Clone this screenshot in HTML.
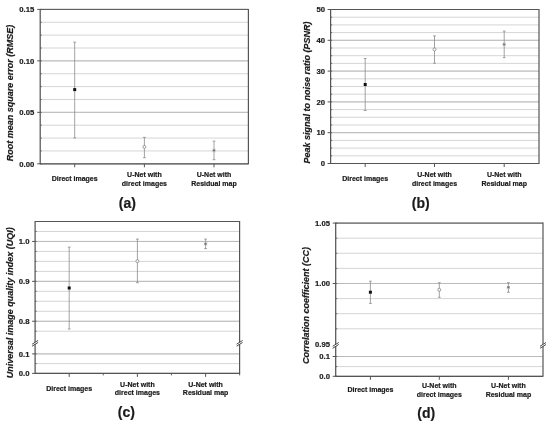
<!DOCTYPE html>
<html><head><meta charset="utf-8"><title>Figure</title>
<style>
html,body{margin:0;padding:0;background:#fff;}
body{width:550px;height:424px;overflow:hidden;}
svg{display:block;font-family:"Liberation Sans",Arial,sans-serif;font-weight:bold;fill:#1a1a1a;}
text{stroke:#1a1a1a;stroke-width:0.2px;stroke-linejoin:round;}
</style></head><body>
<svg width="550" height="424" viewBox="0 0 550 424">
<rect width="550" height="424" fill="#fff"/>
<line x1="40.20" y1="9.40" x2="248.40" y2="9.40" stroke="#cacaca" stroke-width="0.8"/>
<line x1="40.20" y1="22.27" x2="248.40" y2="22.27" stroke="#cacaca" stroke-width="0.8"/>
<line x1="40.20" y1="35.13" x2="248.40" y2="35.13" stroke="#cacaca" stroke-width="0.8"/>
<line x1="40.20" y1="48.00" x2="248.40" y2="48.00" stroke="#cacaca" stroke-width="0.8"/>
<line x1="40.20" y1="60.87" x2="248.40" y2="60.87" stroke="#cacaca" stroke-width="0.8"/>
<line x1="40.20" y1="73.73" x2="248.40" y2="73.73" stroke="#cacaca" stroke-width="0.8"/>
<line x1="40.20" y1="86.60" x2="248.40" y2="86.60" stroke="#cacaca" stroke-width="0.8"/>
<line x1="40.20" y1="99.47" x2="248.40" y2="99.47" stroke="#cacaca" stroke-width="0.8"/>
<line x1="40.20" y1="112.33" x2="248.40" y2="112.33" stroke="#cacaca" stroke-width="0.8"/>
<line x1="40.20" y1="125.20" x2="248.40" y2="125.20" stroke="#cacaca" stroke-width="0.8"/>
<line x1="40.20" y1="138.07" x2="248.40" y2="138.07" stroke="#cacaca" stroke-width="0.8"/>
<line x1="40.20" y1="150.93" x2="248.40" y2="150.93" stroke="#cacaca" stroke-width="0.8"/>
<line x1="40.20" y1="163.80" x2="248.40" y2="163.80" stroke="#cacaca" stroke-width="0.8"/>
<line x1="40.20" y1="9.40" x2="248.40" y2="9.40" stroke="#b8b8b8" stroke-width="0.9"/>
<line x1="40.20" y1="60.87" x2="248.40" y2="60.87" stroke="#b8b8b8" stroke-width="0.9"/>
<line x1="40.20" y1="112.33" x2="248.40" y2="112.33" stroke="#b8b8b8" stroke-width="0.9"/>
<line x1="40.20" y1="163.80" x2="248.40" y2="163.80" stroke="#b8b8b8" stroke-width="0.9"/>
<line x1="40.20" y1="8.90" x2="40.20" y2="164.30" stroke="#555555" stroke-width="1.25"/>
<line x1="248.40" y1="8.90" x2="248.40" y2="164.30" stroke="#555555" stroke-width="1.2"/>
<line x1="40.20" y1="9.40" x2="248.40" y2="9.40" stroke="#555555" stroke-width="1.0"/>
<line x1="40.20" y1="163.80" x2="248.40" y2="163.80" stroke="#555555" stroke-width="1.15"/>
<line x1="37.20" y1="9.40" x2="40.20" y2="9.40" stroke="#555555" stroke-width="1"/>
<line x1="37.20" y1="60.87" x2="40.20" y2="60.87" stroke="#555555" stroke-width="1"/>
<line x1="37.20" y1="112.33" x2="40.20" y2="112.33" stroke="#555555" stroke-width="1"/>
<line x1="37.20" y1="163.80" x2="40.20" y2="163.80" stroke="#555555" stroke-width="1"/>
<line x1="40.20" y1="9.40" x2="41.80" y2="9.40" stroke="#555555" stroke-width="0.8"/>
<line x1="40.20" y1="22.27" x2="41.80" y2="22.27" stroke="#555555" stroke-width="0.8"/>
<line x1="40.20" y1="35.13" x2="41.80" y2="35.13" stroke="#555555" stroke-width="0.8"/>
<line x1="40.20" y1="48.00" x2="41.80" y2="48.00" stroke="#555555" stroke-width="0.8"/>
<line x1="40.20" y1="60.87" x2="41.80" y2="60.87" stroke="#555555" stroke-width="0.8"/>
<line x1="40.20" y1="73.73" x2="41.80" y2="73.73" stroke="#555555" stroke-width="0.8"/>
<line x1="40.20" y1="86.60" x2="41.80" y2="86.60" stroke="#555555" stroke-width="0.8"/>
<line x1="40.20" y1="99.47" x2="41.80" y2="99.47" stroke="#555555" stroke-width="0.8"/>
<line x1="40.20" y1="112.33" x2="41.80" y2="112.33" stroke="#555555" stroke-width="0.8"/>
<line x1="40.20" y1="125.20" x2="41.80" y2="125.20" stroke="#555555" stroke-width="0.8"/>
<line x1="40.20" y1="138.07" x2="41.80" y2="138.07" stroke="#555555" stroke-width="0.8"/>
<line x1="40.20" y1="150.93" x2="41.80" y2="150.93" stroke="#555555" stroke-width="0.8"/>
<line x1="40.20" y1="163.80" x2="41.80" y2="163.80" stroke="#555555" stroke-width="0.8"/>
<text x="34.30" y="12.17" font-size="7.7" text-anchor="end">0.15</text>
<text x="34.30" y="63.64" font-size="7.7" text-anchor="end">0.10</text>
<text x="34.30" y="115.11" font-size="7.7" text-anchor="end">0.05</text>
<text x="34.30" y="166.57" font-size="7.7" text-anchor="end">0.00</text>
<text x="13.00" y="92.90" font-size="9" text-anchor="middle" transform="rotate(-90 13.00 92.90)" font-style="italic">Root mean square error (RMSE)</text>
<line x1="74.70" y1="163.80" x2="74.70" y2="167.30" stroke="#555555" stroke-width="1"/>
<line x1="144.40" y1="163.80" x2="144.40" y2="167.30" stroke="#555555" stroke-width="1"/>
<line x1="214.00" y1="163.80" x2="214.00" y2="167.30" stroke="#555555" stroke-width="1"/>
<text x="74.70" y="181.22" font-size="7" text-anchor="middle">Direct images</text>
<text x="144.40" y="177.22" font-size="7" text-anchor="middle">U-Net with</text>
<text x="144.40" y="185.52" font-size="7" text-anchor="middle">direct images</text>
<text x="214.00" y="177.22" font-size="7" text-anchor="middle">U-Net with</text>
<text x="214.00" y="185.52" font-size="7" text-anchor="middle">Residual map</text>
<text x="127.40" y="208.06" font-size="14" text-anchor="middle">(a)</text>
<line x1="74.70" y1="42.20" x2="74.70" y2="137.90" stroke="#8a8a8a" stroke-width="0.8"/>
<line x1="73.30" y1="42.20" x2="76.10" y2="42.20" stroke="#8a8a8a" stroke-width="0.8"/>
<line x1="73.30" y1="137.90" x2="76.10" y2="137.90" stroke="#8a8a8a" stroke-width="0.8"/>
<rect x="73.20" y="88.10" width="3" height="3" fill="#111"/>
<line x1="144.40" y1="137.40" x2="144.40" y2="157.70" stroke="#8a8a8a" stroke-width="0.8"/>
<line x1="143.00" y1="137.40" x2="145.80" y2="137.40" stroke="#8a8a8a" stroke-width="0.8"/>
<line x1="143.00" y1="157.70" x2="145.80" y2="157.70" stroke="#8a8a8a" stroke-width="0.8"/>
<circle cx="144.40" cy="146.90" r="1.5" fill="#fff" stroke="#777" stroke-width="0.7"/>
<line x1="214.00" y1="141.10" x2="214.00" y2="159.70" stroke="#8a8a8a" stroke-width="0.8"/>
<line x1="212.60" y1="141.10" x2="215.40" y2="141.10" stroke="#8a8a8a" stroke-width="0.8"/>
<line x1="212.60" y1="159.70" x2="215.40" y2="159.70" stroke="#8a8a8a" stroke-width="0.8"/>
<path d="M212.70 149.10L215.30 151.70M212.70 151.70L215.30 149.10M212.50 150.40H215.50" stroke="#666" stroke-width="0.7" fill="none"/>
<line x1="330.60" y1="9.50" x2="539.00" y2="9.50" stroke="#cacaca" stroke-width="0.8"/>
<line x1="330.60" y1="17.20" x2="539.00" y2="17.20" stroke="#cacaca" stroke-width="0.8"/>
<line x1="330.60" y1="24.90" x2="539.00" y2="24.90" stroke="#cacaca" stroke-width="0.8"/>
<line x1="330.60" y1="32.60" x2="539.00" y2="32.60" stroke="#cacaca" stroke-width="0.8"/>
<line x1="330.60" y1="40.30" x2="539.00" y2="40.30" stroke="#cacaca" stroke-width="0.8"/>
<line x1="330.60" y1="48.00" x2="539.00" y2="48.00" stroke="#cacaca" stroke-width="0.8"/>
<line x1="330.60" y1="55.70" x2="539.00" y2="55.70" stroke="#cacaca" stroke-width="0.8"/>
<line x1="330.60" y1="63.40" x2="539.00" y2="63.40" stroke="#cacaca" stroke-width="0.8"/>
<line x1="330.60" y1="71.10" x2="539.00" y2="71.10" stroke="#cacaca" stroke-width="0.8"/>
<line x1="330.60" y1="78.80" x2="539.00" y2="78.80" stroke="#cacaca" stroke-width="0.8"/>
<line x1="330.60" y1="86.50" x2="539.00" y2="86.50" stroke="#cacaca" stroke-width="0.8"/>
<line x1="330.60" y1="94.20" x2="539.00" y2="94.20" stroke="#cacaca" stroke-width="0.8"/>
<line x1="330.60" y1="101.90" x2="539.00" y2="101.90" stroke="#cacaca" stroke-width="0.8"/>
<line x1="330.60" y1="109.60" x2="539.00" y2="109.60" stroke="#cacaca" stroke-width="0.8"/>
<line x1="330.60" y1="117.30" x2="539.00" y2="117.30" stroke="#cacaca" stroke-width="0.8"/>
<line x1="330.60" y1="125.00" x2="539.00" y2="125.00" stroke="#cacaca" stroke-width="0.8"/>
<line x1="330.60" y1="132.70" x2="539.00" y2="132.70" stroke="#cacaca" stroke-width="0.8"/>
<line x1="330.60" y1="140.40" x2="539.00" y2="140.40" stroke="#cacaca" stroke-width="0.8"/>
<line x1="330.60" y1="148.10" x2="539.00" y2="148.10" stroke="#cacaca" stroke-width="0.8"/>
<line x1="330.60" y1="155.80" x2="539.00" y2="155.80" stroke="#cacaca" stroke-width="0.8"/>
<line x1="330.60" y1="163.50" x2="539.00" y2="163.50" stroke="#cacaca" stroke-width="0.8"/>
<line x1="330.60" y1="9.50" x2="539.00" y2="9.50" stroke="#b8b8b8" stroke-width="0.9"/>
<line x1="330.60" y1="40.30" x2="539.00" y2="40.30" stroke="#b8b8b8" stroke-width="0.9"/>
<line x1="330.60" y1="71.10" x2="539.00" y2="71.10" stroke="#b8b8b8" stroke-width="0.9"/>
<line x1="330.60" y1="101.90" x2="539.00" y2="101.90" stroke="#b8b8b8" stroke-width="0.9"/>
<line x1="330.60" y1="132.70" x2="539.00" y2="132.70" stroke="#b8b8b8" stroke-width="0.9"/>
<line x1="330.60" y1="163.50" x2="539.00" y2="163.50" stroke="#b8b8b8" stroke-width="0.9"/>
<line x1="330.60" y1="9.00" x2="330.60" y2="164.00" stroke="#555555" stroke-width="1.25"/>
<line x1="539.00" y1="9.00" x2="539.00" y2="164.00" stroke="#555555" stroke-width="1.2"/>
<line x1="330.60" y1="9.50" x2="539.00" y2="9.50" stroke="#555555" stroke-width="1.0"/>
<line x1="330.60" y1="163.50" x2="539.00" y2="163.50" stroke="#555555" stroke-width="1.15"/>
<line x1="327.60" y1="9.50" x2="330.60" y2="9.50" stroke="#555555" stroke-width="1"/>
<line x1="327.60" y1="40.30" x2="330.60" y2="40.30" stroke="#555555" stroke-width="1"/>
<line x1="327.60" y1="71.10" x2="330.60" y2="71.10" stroke="#555555" stroke-width="1"/>
<line x1="327.60" y1="101.90" x2="330.60" y2="101.90" stroke="#555555" stroke-width="1"/>
<line x1="327.60" y1="132.70" x2="330.60" y2="132.70" stroke="#555555" stroke-width="1"/>
<line x1="327.60" y1="163.50" x2="330.60" y2="163.50" stroke="#555555" stroke-width="1"/>
<line x1="330.60" y1="9.50" x2="332.20" y2="9.50" stroke="#555555" stroke-width="0.8"/>
<line x1="330.60" y1="17.20" x2="332.20" y2="17.20" stroke="#555555" stroke-width="0.8"/>
<line x1="330.60" y1="24.90" x2="332.20" y2="24.90" stroke="#555555" stroke-width="0.8"/>
<line x1="330.60" y1="32.60" x2="332.20" y2="32.60" stroke="#555555" stroke-width="0.8"/>
<line x1="330.60" y1="40.30" x2="332.20" y2="40.30" stroke="#555555" stroke-width="0.8"/>
<line x1="330.60" y1="48.00" x2="332.20" y2="48.00" stroke="#555555" stroke-width="0.8"/>
<line x1="330.60" y1="55.70" x2="332.20" y2="55.70" stroke="#555555" stroke-width="0.8"/>
<line x1="330.60" y1="63.40" x2="332.20" y2="63.40" stroke="#555555" stroke-width="0.8"/>
<line x1="330.60" y1="71.10" x2="332.20" y2="71.10" stroke="#555555" stroke-width="0.8"/>
<line x1="330.60" y1="78.80" x2="332.20" y2="78.80" stroke="#555555" stroke-width="0.8"/>
<line x1="330.60" y1="86.50" x2="332.20" y2="86.50" stroke="#555555" stroke-width="0.8"/>
<line x1="330.60" y1="94.20" x2="332.20" y2="94.20" stroke="#555555" stroke-width="0.8"/>
<line x1="330.60" y1="101.90" x2="332.20" y2="101.90" stroke="#555555" stroke-width="0.8"/>
<line x1="330.60" y1="109.60" x2="332.20" y2="109.60" stroke="#555555" stroke-width="0.8"/>
<line x1="330.60" y1="117.30" x2="332.20" y2="117.30" stroke="#555555" stroke-width="0.8"/>
<line x1="330.60" y1="125.00" x2="332.20" y2="125.00" stroke="#555555" stroke-width="0.8"/>
<line x1="330.60" y1="132.70" x2="332.20" y2="132.70" stroke="#555555" stroke-width="0.8"/>
<line x1="330.60" y1="140.40" x2="332.20" y2="140.40" stroke="#555555" stroke-width="0.8"/>
<line x1="330.60" y1="148.10" x2="332.20" y2="148.10" stroke="#555555" stroke-width="0.8"/>
<line x1="330.60" y1="155.80" x2="332.20" y2="155.80" stroke="#555555" stroke-width="0.8"/>
<line x1="330.60" y1="163.50" x2="332.20" y2="163.50" stroke="#555555" stroke-width="0.8"/>
<text x="325.00" y="12.27" font-size="7.7" text-anchor="end">50</text>
<text x="325.00" y="43.07" font-size="7.7" text-anchor="end">40</text>
<text x="325.00" y="73.87" font-size="7.7" text-anchor="end">30</text>
<text x="325.00" y="104.67" font-size="7.7" text-anchor="end">20</text>
<text x="325.00" y="135.47" font-size="7.7" text-anchor="end">10</text>
<text x="325.00" y="166.27" font-size="7.7" text-anchor="end">0</text>
<text x="310.50" y="92.60" font-size="9" text-anchor="middle" transform="rotate(-90 310.50 92.60)" font-style="italic">Peak signal to noise ratio (PSNR)</text>
<line x1="365.20" y1="163.50" x2="365.20" y2="167.00" stroke="#555555" stroke-width="1"/>
<line x1="434.50" y1="163.50" x2="434.50" y2="167.00" stroke="#555555" stroke-width="1"/>
<line x1="504.20" y1="163.50" x2="504.20" y2="167.00" stroke="#555555" stroke-width="1"/>
<text x="365.20" y="181.22" font-size="7" text-anchor="middle">Direct images</text>
<text x="434.50" y="177.22" font-size="7" text-anchor="middle">U-Net with</text>
<text x="434.50" y="185.52" font-size="7" text-anchor="middle">direct images</text>
<text x="504.20" y="177.22" font-size="7" text-anchor="middle">U-Net with</text>
<text x="504.20" y="185.52" font-size="7" text-anchor="middle">Residual map</text>
<text x="420.80" y="207.56" font-size="14" text-anchor="middle">(b)</text>
<line x1="365.20" y1="58.50" x2="365.20" y2="110.50" stroke="#8a8a8a" stroke-width="0.8"/>
<line x1="363.80" y1="58.50" x2="366.60" y2="58.50" stroke="#8a8a8a" stroke-width="0.8"/>
<line x1="363.80" y1="110.50" x2="366.60" y2="110.50" stroke="#8a8a8a" stroke-width="0.8"/>
<rect x="363.70" y="83.00" width="3" height="3" fill="#111"/>
<line x1="434.50" y1="35.90" x2="434.50" y2="63.20" stroke="#8a8a8a" stroke-width="0.8"/>
<line x1="433.10" y1="35.90" x2="435.90" y2="35.90" stroke="#8a8a8a" stroke-width="0.8"/>
<line x1="433.10" y1="63.20" x2="435.90" y2="63.20" stroke="#8a8a8a" stroke-width="0.8"/>
<circle cx="434.50" cy="49.40" r="1.5" fill="#fff" stroke="#777" stroke-width="0.7"/>
<line x1="504.20" y1="31.10" x2="504.20" y2="57.70" stroke="#8a8a8a" stroke-width="0.8"/>
<line x1="502.80" y1="31.10" x2="505.60" y2="31.10" stroke="#8a8a8a" stroke-width="0.8"/>
<line x1="502.80" y1="57.70" x2="505.60" y2="57.70" stroke="#8a8a8a" stroke-width="0.8"/>
<path d="M502.90 43.10L505.50 45.70M502.90 45.70L505.50 43.10M502.70 44.40H505.70" stroke="#666" stroke-width="0.7" fill="none"/>
<line x1="35.10" y1="221.50" x2="239.60" y2="221.50" stroke="#cacaca" stroke-width="0.8"/>
<line x1="35.10" y1="231.47" x2="239.60" y2="231.47" stroke="#cacaca" stroke-width="0.8"/>
<line x1="35.10" y1="241.45" x2="239.60" y2="241.45" stroke="#cacaca" stroke-width="0.8"/>
<line x1="35.10" y1="251.43" x2="239.60" y2="251.43" stroke="#cacaca" stroke-width="0.8"/>
<line x1="35.10" y1="261.40" x2="239.60" y2="261.40" stroke="#cacaca" stroke-width="0.8"/>
<line x1="35.10" y1="271.38" x2="239.60" y2="271.38" stroke="#cacaca" stroke-width="0.8"/>
<line x1="35.10" y1="281.35" x2="239.60" y2="281.35" stroke="#cacaca" stroke-width="0.8"/>
<line x1="35.10" y1="291.32" x2="239.60" y2="291.32" stroke="#cacaca" stroke-width="0.8"/>
<line x1="35.10" y1="301.30" x2="239.60" y2="301.30" stroke="#cacaca" stroke-width="0.8"/>
<line x1="35.10" y1="311.27" x2="239.60" y2="311.27" stroke="#cacaca" stroke-width="0.8"/>
<line x1="35.10" y1="321.25" x2="239.60" y2="321.25" stroke="#cacaca" stroke-width="0.8"/>
<line x1="35.10" y1="331.23" x2="239.60" y2="331.23" stroke="#cacaca" stroke-width="0.8"/>
<line x1="35.10" y1="353.90" x2="239.60" y2="353.90" stroke="#cacaca" stroke-width="0.8"/>
<line x1="35.10" y1="363.60" x2="239.60" y2="363.60" stroke="#cacaca" stroke-width="0.8"/>
<line x1="35.10" y1="373.40" x2="239.60" y2="373.40" stroke="#cacaca" stroke-width="0.8"/>
<line x1="35.10" y1="241.45" x2="239.60" y2="241.45" stroke="#b8b8b8" stroke-width="0.9"/>
<line x1="35.10" y1="281.35" x2="239.60" y2="281.35" stroke="#b8b8b8" stroke-width="0.9"/>
<line x1="35.10" y1="321.25" x2="239.60" y2="321.25" stroke="#b8b8b8" stroke-width="0.9"/>
<line x1="35.10" y1="353.90" x2="239.60" y2="353.90" stroke="#b8b8b8" stroke-width="0.9"/>
<line x1="35.10" y1="373.40" x2="239.60" y2="373.40" stroke="#b8b8b8" stroke-width="0.9"/>
<line x1="35.10" y1="221.00" x2="35.10" y2="373.90" stroke="#555555" stroke-width="1.25"/>
<line x1="239.60" y1="221.00" x2="239.60" y2="373.90" stroke="#555555" stroke-width="1.2"/>
<line x1="35.10" y1="221.50" x2="239.60" y2="221.50" stroke="#555555" stroke-width="1.0"/>
<line x1="35.10" y1="373.40" x2="239.60" y2="373.40" stroke="#555555" stroke-width="1.15"/>
<line x1="32.10" y1="241.45" x2="35.10" y2="241.45" stroke="#555555" stroke-width="1"/>
<line x1="32.10" y1="281.35" x2="35.10" y2="281.35" stroke="#555555" stroke-width="1"/>
<line x1="32.10" y1="321.25" x2="35.10" y2="321.25" stroke="#555555" stroke-width="1"/>
<line x1="32.10" y1="353.90" x2="35.10" y2="353.90" stroke="#555555" stroke-width="1"/>
<line x1="32.10" y1="373.40" x2="35.10" y2="373.40" stroke="#555555" stroke-width="1"/>
<line x1="35.10" y1="221.50" x2="36.70" y2="221.50" stroke="#555555" stroke-width="0.8"/>
<line x1="35.10" y1="231.47" x2="36.70" y2="231.47" stroke="#555555" stroke-width="0.8"/>
<line x1="35.10" y1="241.45" x2="36.70" y2="241.45" stroke="#555555" stroke-width="0.8"/>
<line x1="35.10" y1="251.43" x2="36.70" y2="251.43" stroke="#555555" stroke-width="0.8"/>
<line x1="35.10" y1="261.40" x2="36.70" y2="261.40" stroke="#555555" stroke-width="0.8"/>
<line x1="35.10" y1="271.38" x2="36.70" y2="271.38" stroke="#555555" stroke-width="0.8"/>
<line x1="35.10" y1="281.35" x2="36.70" y2="281.35" stroke="#555555" stroke-width="0.8"/>
<line x1="35.10" y1="291.32" x2="36.70" y2="291.32" stroke="#555555" stroke-width="0.8"/>
<line x1="35.10" y1="301.30" x2="36.70" y2="301.30" stroke="#555555" stroke-width="0.8"/>
<line x1="35.10" y1="311.27" x2="36.70" y2="311.27" stroke="#555555" stroke-width="0.8"/>
<line x1="35.10" y1="321.25" x2="36.70" y2="321.25" stroke="#555555" stroke-width="0.8"/>
<line x1="35.10" y1="331.23" x2="36.70" y2="331.23" stroke="#555555" stroke-width="0.8"/>
<line x1="35.10" y1="353.90" x2="36.70" y2="353.90" stroke="#555555" stroke-width="0.8"/>
<line x1="35.10" y1="363.60" x2="36.70" y2="363.60" stroke="#555555" stroke-width="0.8"/>
<line x1="35.10" y1="373.40" x2="36.70" y2="373.40" stroke="#555555" stroke-width="0.8"/>
<text x="29.50" y="244.22" font-size="7.7" text-anchor="end">1.0</text>
<text x="29.50" y="284.12" font-size="7.7" text-anchor="end">0.9</text>
<text x="29.50" y="324.02" font-size="7.7" text-anchor="end">0.8</text>
<text x="29.50" y="356.67" font-size="7.7" text-anchor="end">0.1</text>
<text x="29.50" y="376.17" font-size="7.7" text-anchor="end">0.0</text>
<text x="12.60" y="302.75" font-size="9" text-anchor="middle" transform="rotate(-90 12.60 302.75)" font-style="italic">Universal image quality index (UQI)</text>
<line x1="69.20" y1="373.40" x2="69.20" y2="376.90" stroke="#555555" stroke-width="1"/>
<line x1="137.40" y1="373.40" x2="137.40" y2="376.90" stroke="#555555" stroke-width="1"/>
<line x1="205.60" y1="373.40" x2="205.60" y2="376.90" stroke="#555555" stroke-width="1"/>
<line x1="103.27" y1="373.40" x2="103.27" y2="375.40" stroke="#555555" stroke-width="0.9"/>
<line x1="171.43" y1="373.40" x2="171.43" y2="375.40" stroke="#555555" stroke-width="0.9"/>
<line x1="239.60" y1="373.40" x2="239.60" y2="375.40" stroke="#555555" stroke-width="0.9"/>
<text x="69.20" y="390.72" font-size="7" text-anchor="middle">Direct images</text>
<text x="137.40" y="386.72" font-size="7" text-anchor="middle">U-Net with</text>
<text x="137.40" y="395.02" font-size="7" text-anchor="middle">direct images</text>
<text x="205.60" y="386.72" font-size="7" text-anchor="middle">U-Net with</text>
<text x="205.60" y="395.02" font-size="7" text-anchor="middle">Residual map</text>
<text x="126.30" y="417.26" font-size="14" text-anchor="middle">(c)</text>
<rect x="33.60" y="342.30" width="3" height="2.0" fill="#fff" transform="skewY(-33)" style="transform-origin:35.10px 343.30px"/>
<line x1="32.10" y1="344.20" x2="38.10" y2="340.40" stroke="#333" stroke-width="0.9"/>
<line x1="32.10" y1="346.20" x2="38.10" y2="342.40" stroke="#333" stroke-width="0.9"/>
<rect x="238.10" y="342.30" width="3" height="2.0" fill="#fff" transform="skewY(-33)" style="transform-origin:239.60px 343.30px"/>
<line x1="236.60" y1="344.20" x2="242.60" y2="340.40" stroke="#333" stroke-width="0.9"/>
<line x1="236.60" y1="346.20" x2="242.60" y2="342.40" stroke="#333" stroke-width="0.9"/>
<line x1="69.20" y1="247.10" x2="69.20" y2="329.00" stroke="#8a8a8a" stroke-width="0.8"/>
<line x1="67.80" y1="247.10" x2="70.60" y2="247.10" stroke="#8a8a8a" stroke-width="0.8"/>
<line x1="67.80" y1="329.00" x2="70.60" y2="329.00" stroke="#8a8a8a" stroke-width="0.8"/>
<rect x="67.70" y="286.50" width="3" height="3" fill="#111"/>
<line x1="137.40" y1="239.10" x2="137.40" y2="282.70" stroke="#8a8a8a" stroke-width="0.8"/>
<line x1="136.00" y1="239.10" x2="138.80" y2="239.10" stroke="#8a8a8a" stroke-width="0.8"/>
<line x1="136.00" y1="282.70" x2="138.80" y2="282.70" stroke="#8a8a8a" stroke-width="0.8"/>
<circle cx="137.40" cy="261.20" r="1.5" fill="#fff" stroke="#777" stroke-width="0.7"/>
<line x1="205.60" y1="239.10" x2="205.60" y2="248.60" stroke="#8a8a8a" stroke-width="0.8"/>
<line x1="204.20" y1="239.10" x2="207.00" y2="239.10" stroke="#8a8a8a" stroke-width="0.8"/>
<line x1="204.20" y1="248.60" x2="207.00" y2="248.60" stroke="#8a8a8a" stroke-width="0.8"/>
<path d="M204.30 242.60L206.90 245.20M204.30 245.20L206.90 242.60M204.10 243.90H207.10" stroke="#666" stroke-width="0.7" fill="none"/>
<line x1="335.70" y1="223.10" x2="543.00" y2="223.10" stroke="#cacaca" stroke-width="0.8"/>
<line x1="335.70" y1="238.20" x2="543.00" y2="238.20" stroke="#cacaca" stroke-width="0.8"/>
<line x1="335.70" y1="253.30" x2="543.00" y2="253.30" stroke="#cacaca" stroke-width="0.8"/>
<line x1="335.70" y1="268.40" x2="543.00" y2="268.40" stroke="#cacaca" stroke-width="0.8"/>
<line x1="335.70" y1="283.50" x2="543.00" y2="283.50" stroke="#cacaca" stroke-width="0.8"/>
<line x1="335.70" y1="298.60" x2="543.00" y2="298.60" stroke="#cacaca" stroke-width="0.8"/>
<line x1="335.70" y1="313.70" x2="543.00" y2="313.70" stroke="#cacaca" stroke-width="0.8"/>
<line x1="335.70" y1="328.80" x2="543.00" y2="328.80" stroke="#cacaca" stroke-width="0.8"/>
<line x1="335.70" y1="356.50" x2="543.00" y2="356.50" stroke="#cacaca" stroke-width="0.8"/>
<line x1="335.70" y1="366.60" x2="543.00" y2="366.60" stroke="#cacaca" stroke-width="0.8"/>
<line x1="335.70" y1="376.30" x2="543.00" y2="376.30" stroke="#cacaca" stroke-width="0.8"/>
<line x1="335.70" y1="223.10" x2="543.00" y2="223.10" stroke="#b8b8b8" stroke-width="0.9"/>
<line x1="335.70" y1="283.50" x2="543.00" y2="283.50" stroke="#b8b8b8" stroke-width="0.9"/>
<line x1="335.70" y1="356.50" x2="543.00" y2="356.50" stroke="#b8b8b8" stroke-width="0.9"/>
<line x1="335.70" y1="376.30" x2="543.00" y2="376.30" stroke="#b8b8b8" stroke-width="0.9"/>
<line x1="335.70" y1="222.60" x2="335.70" y2="376.80" stroke="#555555" stroke-width="1.25"/>
<line x1="543.00" y1="222.60" x2="543.00" y2="376.80" stroke="#555555" stroke-width="1.2"/>
<line x1="335.70" y1="223.10" x2="543.00" y2="223.10" stroke="#555555" stroke-width="1.0"/>
<line x1="335.70" y1="376.30" x2="543.00" y2="376.30" stroke="#555555" stroke-width="1.15"/>
<line x1="332.70" y1="223.10" x2="335.70" y2="223.10" stroke="#555555" stroke-width="1"/>
<line x1="332.70" y1="283.50" x2="335.70" y2="283.50" stroke="#555555" stroke-width="1"/>
<line x1="332.70" y1="356.50" x2="335.70" y2="356.50" stroke="#555555" stroke-width="1"/>
<line x1="332.70" y1="376.30" x2="335.70" y2="376.30" stroke="#555555" stroke-width="1"/>
<line x1="335.70" y1="223.10" x2="337.30" y2="223.10" stroke="#555555" stroke-width="0.8"/>
<line x1="335.70" y1="238.20" x2="337.30" y2="238.20" stroke="#555555" stroke-width="0.8"/>
<line x1="335.70" y1="253.30" x2="337.30" y2="253.30" stroke="#555555" stroke-width="0.8"/>
<line x1="335.70" y1="268.40" x2="337.30" y2="268.40" stroke="#555555" stroke-width="0.8"/>
<line x1="335.70" y1="283.50" x2="337.30" y2="283.50" stroke="#555555" stroke-width="0.8"/>
<line x1="335.70" y1="298.60" x2="337.30" y2="298.60" stroke="#555555" stroke-width="0.8"/>
<line x1="335.70" y1="313.70" x2="337.30" y2="313.70" stroke="#555555" stroke-width="0.8"/>
<line x1="335.70" y1="328.80" x2="337.30" y2="328.80" stroke="#555555" stroke-width="0.8"/>
<line x1="335.70" y1="356.50" x2="337.30" y2="356.50" stroke="#555555" stroke-width="0.8"/>
<line x1="335.70" y1="366.60" x2="337.30" y2="366.60" stroke="#555555" stroke-width="0.8"/>
<line x1="335.70" y1="376.30" x2="337.30" y2="376.30" stroke="#555555" stroke-width="0.8"/>
<text x="330.00" y="225.87" font-size="7.7" text-anchor="end">1.05</text>
<text x="330.00" y="286.27" font-size="7.7" text-anchor="end">1.00</text>
<text x="330.00" y="347.17" font-size="7.7" text-anchor="end">0.95</text>
<text x="330.00" y="359.27" font-size="7.7" text-anchor="end">0.1</text>
<text x="330.00" y="379.07" font-size="7.7" text-anchor="end">0.0</text>
<text x="308.80" y="305.50" font-size="9" text-anchor="middle" transform="rotate(-90 308.80 305.50)" font-style="italic">Correlation coefficient (CC)</text>
<line x1="370.40" y1="376.30" x2="370.40" y2="379.80" stroke="#555555" stroke-width="1"/>
<line x1="439.30" y1="376.30" x2="439.30" y2="379.80" stroke="#555555" stroke-width="1"/>
<line x1="508.40" y1="376.30" x2="508.40" y2="379.80" stroke="#555555" stroke-width="1"/>
<text x="370.40" y="392.32" font-size="7" text-anchor="middle">Direct images</text>
<text x="439.30" y="388.32" font-size="7" text-anchor="middle">U-Net with</text>
<text x="439.30" y="396.62" font-size="7" text-anchor="middle">direct images</text>
<text x="508.40" y="388.32" font-size="7" text-anchor="middle">U-Net with</text>
<text x="508.40" y="396.62" font-size="7" text-anchor="middle">Residual map</text>
<text x="426.30" y="417.56" font-size="14" text-anchor="middle">(d)</text>
<rect x="334.20" y="344.40" width="3" height="2.0" fill="#fff" transform="skewY(-33)" style="transform-origin:335.70px 345.40px"/>
<line x1="332.70" y1="346.30" x2="338.70" y2="342.50" stroke="#333" stroke-width="0.9"/>
<line x1="332.70" y1="348.30" x2="338.70" y2="344.50" stroke="#333" stroke-width="0.9"/>
<rect x="541.50" y="344.40" width="3" height="2.0" fill="#fff" transform="skewY(-33)" style="transform-origin:543.00px 345.40px"/>
<line x1="540.00" y1="346.30" x2="546.00" y2="342.50" stroke="#333" stroke-width="0.9"/>
<line x1="540.00" y1="348.30" x2="546.00" y2="344.50" stroke="#333" stroke-width="0.9"/>
<line x1="370.40" y1="281.20" x2="370.40" y2="303.40" stroke="#8a8a8a" stroke-width="0.8"/>
<line x1="369.00" y1="281.20" x2="371.80" y2="281.20" stroke="#8a8a8a" stroke-width="0.8"/>
<line x1="369.00" y1="303.40" x2="371.80" y2="303.40" stroke="#8a8a8a" stroke-width="0.8"/>
<rect x="368.90" y="290.70" width="3" height="3" fill="#111"/>
<line x1="439.30" y1="282.70" x2="439.30" y2="297.30" stroke="#8a8a8a" stroke-width="0.8"/>
<line x1="437.90" y1="282.70" x2="440.70" y2="282.70" stroke="#8a8a8a" stroke-width="0.8"/>
<line x1="437.90" y1="297.30" x2="440.70" y2="297.30" stroke="#8a8a8a" stroke-width="0.8"/>
<circle cx="439.30" cy="289.80" r="1.5" fill="#fff" stroke="#777" stroke-width="0.7"/>
<line x1="508.40" y1="282.70" x2="508.40" y2="292.30" stroke="#8a8a8a" stroke-width="0.8"/>
<line x1="507.00" y1="282.70" x2="509.80" y2="282.70" stroke="#8a8a8a" stroke-width="0.8"/>
<line x1="507.00" y1="292.30" x2="509.80" y2="292.30" stroke="#8a8a8a" stroke-width="0.8"/>
<path d="M507.10 286.00L509.70 288.60M507.10 288.60L509.70 286.00M506.90 287.30H509.90" stroke="#666" stroke-width="0.7" fill="none"/>
</svg>
</body></html>
